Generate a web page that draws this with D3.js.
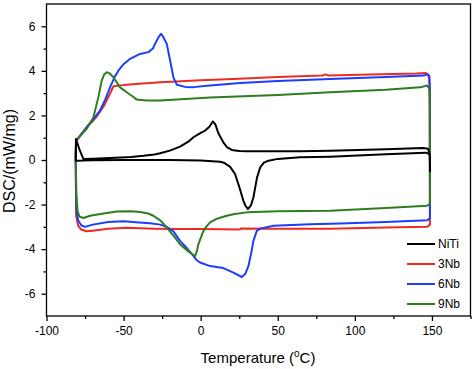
<!DOCTYPE html>
<html><head><meta charset="utf-8">
<script src="https://cdn.jsdelivr.net/npm/d3@7"></script>
<style>body{margin:0;background:#fff}svg{display:block}text{font-family:"Liberation Sans",Arial,sans-serif}</style>
</head><body>
<svg id="c" width="474" height="369"></svg>
<script>
// Data: [temperature °C, DSC mW/mg] points around each closed loop
const seriesNames = ["NiTi", "3Nb", "6Nb", "9Nb"];
const xTicks = [-100, -50, 0, 50, 100, 150];
const xMinor = [-75, -25, 25, 75, 125, 175];
const yTicks = [-6, -4, -2, 0, 2, 4, 6];
const yMinor = [-5, -3, -1, 1, 3, 5];

const loop3Nb = [[-80.8,-2.5],[-81.1,0.2],[-80.8,0.85],[-78,1.1],[-74,1.47],[-70,1.75],[-67.4,1.95],[-63,2.4],[-59,2.95],[-56.6,3.31],[-50,3.36],[-40,3.42],[-26,3.49],[0,3.58],[25,3.65],[50,3.72],[79,3.79],[81,3.84],[83,3.79],[110,3.84],[140,3.88],[146,3.9],[148.2,3.8],[148.6,3.0],[148.7,-2.9],[147,-3.0],[120,-3.03],[84,-3.08],[50,-3.08],[26,-3.07],[25.5,-3.12],[0,-3.1],[-15,-3.1],[-30,-3.08],[-48,-3.04],[-60,-3.09],[-70,-3.17],[-74,-3.2],[-77.5,-3.12],[-79.5,-2.95],[-80.8,-2.5]];

const loop6Nb = [[-80.6,-2.2],[-81.1,0.0],[-80.8,0.85],[-78,1.1],[-74,1.47],[-70,1.8],[-65.3,2.22],[-62,2.7],[-58.8,3.26],[-56,3.7],[-53.4,4.01],[-50,4.3],[-45.8,4.54],[-39.3,4.76],[-33.9,4.84],[-31,5.0],[-29.6,5.21],[-27,5.55],[-25.7,5.66],[-24.5,5.55],[-22,5.21],[-19.8,4.46],[-17.7,3.71],[-15.5,3.38],[-10,3.28],[-4.7,3.27],[6.1,3.34],[25.6,3.45],[50,3.55],[84,3.64],[120,3.72],[145,3.79],[147,3.86],[148.3,3.7],[148.6,3.3],[148.7,-2.6],[147,-2.7],[120,-2.78],[90.5,-2.85],[71,-2.88],[47.2,-2.95],[38.6,-3.08],[36.4,-3.18],[34.2,-3.63],[33,-4.1],[31,-4.75],[29,-5.1],[26.7,-5.25],[21.2,-5.05],[14.7,-4.85],[6.1,-4.76],[-0.4,-4.6],[-2.5,-4.5],[-4.7,-4.3],[-9,-3.95],[-13.4,-3.63],[-17.7,-3.2],[-22,-3.0],[-26.3,-2.9],[-32.8,-2.84],[-40,-2.8],[-50,-2.75],[-60,-2.78],[-70,-2.9],[-75,-3.0],[-77.5,-2.93],[-79.5,-2.7],[-80.6,-2.2]];

const loop9Nb = [[-80.7,-1.5],[-81,0.3],[-80.8,0.87],[-78,1.1],[-73.9,1.4],[-69.6,1.91],[-66.4,2.81],[-64.2,3.56],[-62.5,3.85],[-60.9,3.94],[-59,3.88],[-56.6,3.71],[-52.3,3.26],[-48,3.04],[-44,2.85],[-41.5,2.71],[-35,2.67],[-26.3,2.67],[6.1,2.8],[50,2.92],[84,3.04],[120,3.15],[142.4,3.26],[146.8,3.34],[148.3,3.2],[148.6,2.5],[148.7,-1.95],[147,-2.05],[120,-2.15],[84,-2.28],[50,-2.3],[29.9,-2.35],[22,-2.42],[16.9,-2.5],[10,-2.65],[6.1,-2.8],[3.5,-3.0],[1.8,-3.18],[-0.5,-3.6],[-1.5,-3.78],[-2.5,-4.1],[-3.6,-4.3],[-5,-4.25],[-8,-4.1],[-13.4,-3.78],[-17,-3.45],[-22,-3.03],[-26,-2.72],[-30.7,-2.5],[-34,-2.4],[-39.3,-2.33],[-45,-2.3],[-54.4,-2.31],[-65,-2.42],[-71.8,-2.5],[-76,-2.6],[-78.5,-2.55],[-79.8,-2.3],[-80.7,-1.5]];

const loopNiTi = [[-81,-0.05],[-80.9,0.94],[-78.5,0.45],[-76.1,0.05],[-70,0.06],[-58.8,0.09],[-45,0.14],[-37.2,0.19],[-30,0.25],[-26.3,0.3],[-20,0.42],[-13.4,0.6],[-8,0.82],[-4.7,1.02],[0,1.22],[2.9,1.32],[5.5,1.48],[7.9,1.73],[9.5,1.6],[11.5,1.2],[14.7,0.79],[17,0.58],[20.2,0.45],[25,0.4],[29.9,0.39],[64.5,0.39],[84,0.42],[120,0.48],[144.4,0.54],[147.5,0.5],[148.6,0.2],[148.8,-0.5],[148.6,0.25],[146,0.33],[120,0.26],[84,0.15],[64.5,0.12],[50,0.05],[44,-0.03],[41,-0.12],[38.6,-0.33],[36.5,-0.8],[34.2,-1.68],[32.5,-2.05],[30.6,-2.2],[29,-2.05],[27.7,-1.83],[25,-1.2],[22.3,-0.63],[19,-0.3],[15,-0.12],[12.6,-0.08],[0,-0.02],[-20,0.0],[-50,0.0],[-70,-0.01],[-76,-0.02],[-80,-0.03],[-81,-0.05]];

const seriesColors = ["#000000", "#ee2a24", "#1a3dff", "#2e7d1e"];
const loops = {"NiTi": loopNiTi, "3Nb": loop3Nb, "6Nb": loop6Nb, "9Nb": loop9Nb};

const svg = d3.select("#c");
const W = 474, H = 369;
const m = {l: 46.5, r: 3.5, t: 4, b: 53};
const x = d3.scaleLinear().domain([-100, 175]).range([m.l, W - m.r]);
const y = d3.scaleLinear().domain([-7, 7]).range([H - m.b, m.t]);

const line = d3.line().x(d => x(d[0])).y(d => y(d[1]));
// draw order: red, blue, green, black
["3Nb", "6Nb", "9Nb", "NiTi"].forEach(name => {
  const i = seriesNames.indexOf(name);
  svg.append("path").datum(loops[name]).attr("d", line)
    .attr("fill", "none").attr("stroke", seriesColors[i])
    .attr("stroke-width", 2).attr("stroke-linejoin", "round");
});

// frame
svg.append("rect").attr("x", m.l).attr("y", m.t).attr("width", W - m.r - m.l).attr("height", H - m.b - m.t)
  .attr("fill", "none").attr("stroke", "#000").attr("stroke-width", 1.3);

const fmt = d => String(d);
const gx = svg.append("g").attr("transform", `translate(0,${H - m.b})`)
  .call(d3.axisBottom(x).tickValues(xTicks).tickFormat(fmt).tickSize(5).tickSizeOuter(0).tickPadding(5));
const gxm = svg.append("g").attr("transform", `translate(0,${H - m.b})`)
  .call(d3.axisBottom(x).tickValues(xMinor).tickFormat("").tickSize(3).tickSizeOuter(0));
const gy = svg.append("g").attr("transform", `translate(${m.l},0)`)
  .call(d3.axisLeft(y).tickValues(yTicks).tickFormat(fmt).tickSize(5).tickSizeOuter(0).tickPadding(6));
const gym = svg.append("g").attr("transform", `translate(${m.l},0)`)
  .call(d3.axisLeft(y).tickValues(yMinor).tickFormat("").tickSize(3).tickSizeOuter(0));
[gx, gxm, gy, gym].forEach(g => {
  g.select(".domain").remove();
  g.selectAll("line").attr("stroke", "#000").attr("stroke-width", 1.3);
  g.selectAll("text").attr("fill", "#000").style("font-size", "12px").style("font-family", '"Liberation Sans", Arial, sans-serif');
});

// axis titles
svg.append("text").attr("transform", `translate(15,${y(0) + 1}) rotate(-90)`)
  .attr("text-anchor", "middle").style("font-size", "16px").text("DSC/(mW/mg)");
const xt = svg.append("text").attr("x", 258).attr("y", 363).attr("text-anchor", "middle").style("font-size", "15px");
xt.append("tspan").text("Temperature (");
xt.append("tspan").attr("dy", -6).style("font-size", "10px").text("o");
xt.append("tspan").attr("dy", 6).text("C)");

// legend
const lg = svg.append("g");
seriesNames.forEach((n, i) => {
  const ly = 244 + i * 20;
  lg.append("line").attr("x1", 407).attr("x2", 435).attr("y1", ly).attr("y2", ly)
    .attr("stroke", seriesColors[i]).attr("stroke-width", 2);
  lg.append("text").attr("x", 438).attr("y", ly + 4.3).style("font-size", "12px").text(n);
});
</script>
</body></html>
